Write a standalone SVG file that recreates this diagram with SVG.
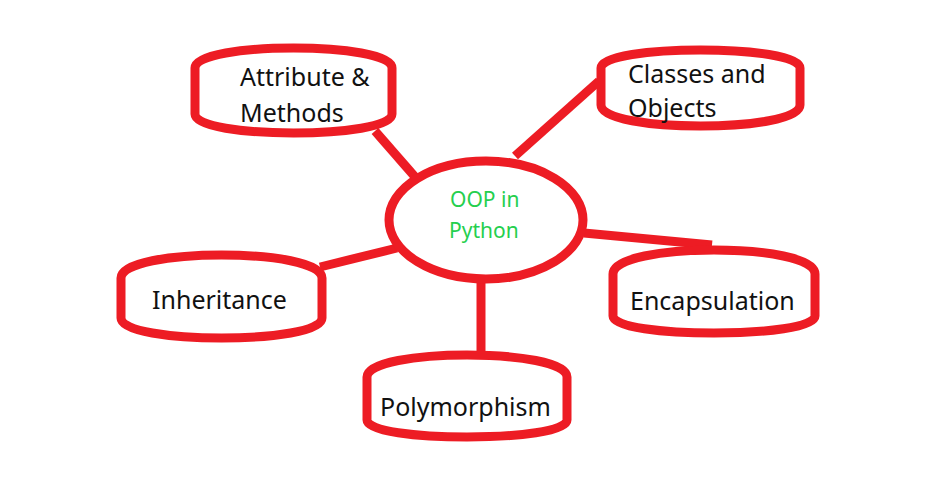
<svg xmlns="http://www.w3.org/2000/svg" width="942" height="482" viewBox="0 0 942 482">
<style>
.shape{fill:none;stroke:#ed1c24;stroke-width:9;stroke-linejoin:round;stroke-linecap:round}
.conn{fill:none;stroke:#ed1c24;stroke-width:9;stroke-linecap:butt}
.lbl{font-family:"Noto Sans","Open Sans",sans-serif;font-size:25px;fill:#111}
.ctr{font-family:"Noto Sans","Open Sans",sans-serif;font-size:21px;fill:#25cf4e}
</style>
<rect width="942" height="482" fill="#fff"/>
<g id="connectors">
<line class="conn" x1="375" y1="131" x2="416" y2="178"/>
<line class="conn" x1="599" y1="81" x2="515" y2="156"/>
<line class="conn" x1="320" y1="267" x2="397" y2="248"/>
<line class="conn" x1="584" y1="233" x2="712" y2="245"/>
<line class="conn" x1="481" y1="282" x2="481" y2="353"/>
</g>
<g id="center">
<ellipse class="shape" cx="486" cy="220" rx="97" ry="59"/>
<text class="ctr" x="450" y="207">OOP in</text>
<text class="ctr" x="449" y="238">Python</text>
</g>
<g id="attribute-methods">
<path class="shape" d="M195,68 C195,41.3 392,41.3 392,68 L392,114 C392,139.3 195,139.3 195,114 Z"/>
<text class="lbl" x="240" y="86">Attribute &amp;</text>
<text class="lbl" x="240" y="122">Methods</text>
</g>
<g id="classes-objects">
<path class="shape" d="M601,68 C601,44 800,44 800,68 L800,105 C800,133 601,133 601,105 Z"/>
<text class="lbl" x="628" y="83">Classes and</text>
<text class="lbl" x="628" y="117">Objects</text>
</g>
<g id="inheritance">
<path class="shape" d="M121,278 C121,247.3 322,247.3 322,278 L322,318 C322,344.7 121,344.7 121,318 Z"/>
<text class="lbl" x="152" y="309">Inheritance</text>
</g>
<g id="encapsulation">
<path class="shape" d="M613,274 C613,242 815,242 815,274 L815,316 C815,338.7 613,338.7 613,316 Z"/>
<text class="lbl" x="630" y="310">Encapsulation</text>
</g>
<g id="polymorphism">
<path class="shape" d="M367,377 C367,347.7 567,347.7 567,377 L567,420 C567,442.7 367,442.7 367,420 Z"/>
<text class="lbl" x="380" y="416">Polymorphism</text>
</g>
</svg>
